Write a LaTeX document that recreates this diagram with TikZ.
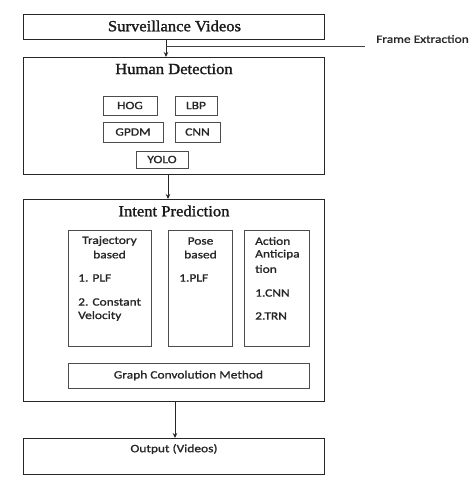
\documentclass[tikz,border=0pt]{standalone}
\usepackage{fontspec}
\setmainfont[FakeStretch=1.07,FakeBold=1.5]{Liberation Serif}
\newfontfamily\calib[FakeStretch=1.2,FakeBold=1.2]{Carlito}
\usetikzlibrary{arrows.meta}
\begin{document}
\begin{tikzpicture}[x=1pt,y=-1pt,
  box/.style={draw=black!85,line width=0.9pt,inner sep=0pt},
  ibox/.style={draw=black!70,line width=0.9pt,inner sep=0pt},
  ttl/.style={font=\fontsize{15.5}{17}\selectfont,inner sep=0pt,text=black!90},
  sm/.style={font=\calib\fontsize{11.2}{13}\selectfont,inner sep=0pt,text=black!85},
  arr/.style={-{Stealth[length=5pt,width=4.5pt]},line width=0.9pt,black!85}]
\useasboundingbox (0,0) rectangle (474,483);
% main boxes
\node[box,minimum width=301pt,minimum height=25pt] (sv) at (173.5,26.5) {};
\node[ttl] (svt) at (174.5,26) {Surveillance Videos};
\node[box,minimum width=301pt,minimum height=117pt] (hd) at (173.5,115.5) {};
\node[ttl] (hdt) at (174,69) {Human Detection};
\node[box,minimum width=301pt,minimum height=202pt] (ip) at (173.5,300) {};
\node[ttl] (ipt) at (174,211) {Intent Prediction};
\node[box,minimum width=301pt,minimum height=36pt] (out) at (173.5,456) {};
\node[sm] (outt) at (174,449) {Output (Videos)};
% human detection inner boxes
\node[ibox,minimum width=54pt,minimum height=19pt] (hog) at (130,105.5) {};
\node[sm] at (hog) {HOG};
\node[ibox,minimum width=42pt,minimum height=19pt] (lbp) at (196,105.5) {};
\node[sm] at (lbp) {LBP};
\node[ibox,minimum width=60pt,minimum height=20pt] (gpdm) at (133,132) {};
\node[sm] at (gpdm) {GPDM};
\node[ibox,minimum width=45pt,minimum height=20pt] (cnn) at (197.5,132) {};
\node[sm] at (cnn) {CNN};
\node[ibox,minimum width=52pt,minimum height=17pt] (yolo) at (162,159.5) {};
\node[sm] at (yolo) {YOLO};
% intent prediction inner boxes
\node[ibox,minimum width=83pt,minimum height=116pt] (traj) at (109.5,288) {};
\node[sm] at (109.5,241) {Trajectory};
\node[sm] at (109.5,254.5) {based};
\node[sm,anchor=west] at (78,278) {1. PLF};
\node[sm,anchor=west] at (78,302) {2. Constant};
\node[sm,anchor=west] at (78,316) {Velocity};
\node[ibox,minimum width=64pt,minimum height=116pt] (pose) at (200,288) {};
\node[sm] at (200.5,241) {Pose};
\node[sm] at (200.5,254.5) {based};
\node[sm,anchor=west] at (179,278) {1.PLF};
\node[ibox,minimum width=65pt,minimum height=116pt] (act) at (276.5,288) {};
\node[sm,anchor=west] at (255,241) {Action};
\node[sm,anchor=west] at (255,254.5) {Anticipa};
\node[sm,anchor=west] at (255,269) {tion};
\node[sm,anchor=west] at (255,293) {1.CNN};
\node[sm,anchor=west] at (255,316) {2.TRN};
\node[ibox,minimum width=241pt,minimum height=25pt] (gcm) at (188.5,375.5) {};
\node[sm] at (gcm) {Graph Convolution Method};
% connectors
\draw[arr] (166,39) -- (166,57);
\coordinate (fj) at (166,46);
\coordinate (fe) at (365,46);
\draw[line width=0.7pt,black!75] (fj) -- (fe);
\node[sm,anchor=west] (fet) at (376,39) {Frame Extraction};
\draw[arr] (168,174) -- (168,199);
\draw[arr] (175,401) -- (175,438);
\end{tikzpicture}
\end{document}
